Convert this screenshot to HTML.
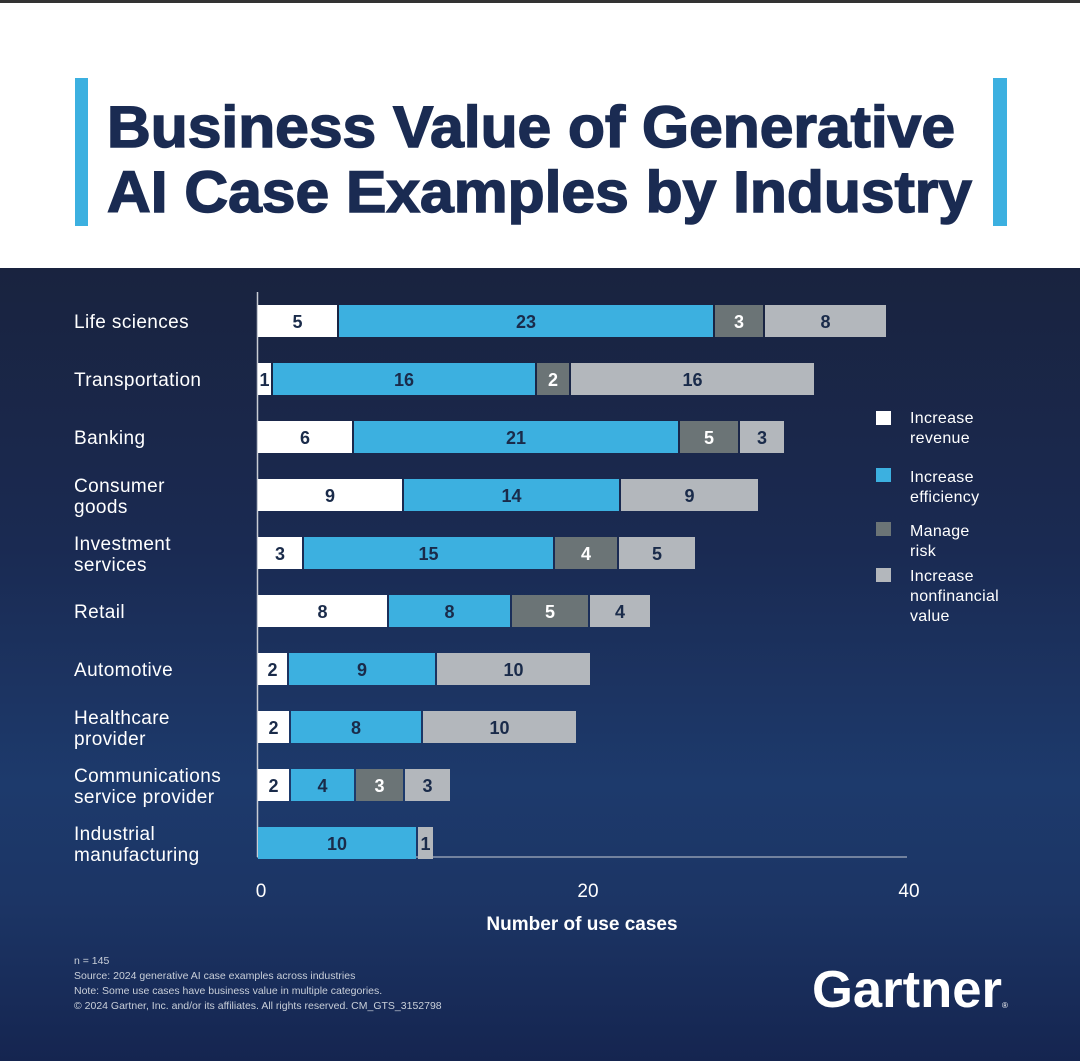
<!DOCTYPE html>
<html><head><meta charset="utf-8"><style>
html,body{margin:0;padding:0;width:1080px;height:1061px;overflow:hidden;background:#fff}
</style></head><body>
<svg width="1080" height="1061" viewBox="0 0 1080 1061" xmlns="http://www.w3.org/2000/svg" font-family="Liberation Sans, sans-serif">
<defs>
<linearGradient id="bg" x1="0" y1="0" x2="0" y2="1">
<stop offset="0" stop-color="#19233f"/>
<stop offset="0.35" stop-color="#1a2a52"/>
<stop offset="0.65" stop-color="#1d3a6c"/>
<stop offset="0.8" stop-color="#1c3565"/>
<stop offset="1" stop-color="#152550"/>
</linearGradient>
</defs>
<rect x="0" y="0" width="1080" height="3" fill="#333"/>
<rect x="0" y="3" width="1080" height="265" fill="#fff"/>
<rect x="75" y="78" width="13" height="148" fill="#3cb0e0"/>
<rect x="993" y="78" width="14" height="148" fill="#3cb0e0"/>
<g fill="#1a2b52" font-weight="bold" font-size="58" stroke="#1a2b52" stroke-width="1.5">
<text x="107" y="147" textLength="848" lengthAdjust="spacingAndGlyphs">Business Value of Generative</text>
<text x="107" y="212" textLength="865" lengthAdjust="spacingAndGlyphs">AI Case Examples by Industry</text>
</g>
<rect x="0" y="268" width="1080" height="793" fill="url(#bg)"/>
<line x1="257.5" y1="292" x2="257.5" y2="857" stroke="#c8ccd4" stroke-width="1.5"/>
<line x1="257" y1="857" x2="907" y2="857" stroke="#c8ccd4" stroke-width="1"/>
<g fill="#fff" font-size="19" letter-spacing="0.4">
<text x="74" y="328">Life sciences</text>
<text x="74" y="386">Transportation</text>
<text x="74" y="444">Banking</text>
<text x="74" y="492">Consumer</text><text x="74" y="513">goods</text>
<text x="74" y="550">Investment</text><text x="74" y="571">services</text>
<text x="74" y="618">Retail</text>
<text x="74" y="676">Automotive</text>
<text x="74" y="724">Healthcare</text><text x="74" y="745">provider</text>
<text x="74" y="782">Communications</text><text x="74" y="803">service provider</text>
<text x="74" y="840">Industrial</text><text x="74" y="861">manufacturing</text>
</g>
<g>
<rect x="258" y="305" width="79" height="32" fill="#fff"/><rect x="339" y="305" width="374" height="32" fill="#3cb0e0"/><rect x="715" y="305" width="48" height="32" fill="#6b7476"/><rect x="765" y="305" width="121" height="32" fill="#b3b7bc"/>
<rect x="258" y="363" width="13" height="32" fill="#fff"/><rect x="273" y="363" width="262" height="32" fill="#3cb0e0"/><rect x="537" y="363" width="32" height="32" fill="#6b7476"/><rect x="571" y="363" width="243" height="32" fill="#b3b7bc"/>
<rect x="258" y="421" width="94" height="32" fill="#fff"/><rect x="354" y="421" width="324" height="32" fill="#3cb0e0"/><rect x="680" y="421" width="58" height="32" fill="#6b7476"/><rect x="740" y="421" width="44" height="32" fill="#b3b7bc"/>
<rect x="258" y="479" width="144" height="32" fill="#fff"/><rect x="404" y="479" width="215" height="32" fill="#3cb0e0"/><rect x="621" y="479" width="137" height="32" fill="#b3b7bc"/>
<rect x="258" y="537" width="44" height="32" fill="#fff"/><rect x="304" y="537" width="249" height="32" fill="#3cb0e0"/><rect x="555" y="537" width="62" height="32" fill="#6b7476"/><rect x="619" y="537" width="76" height="32" fill="#b3b7bc"/>
<rect x="258" y="595" width="129" height="32" fill="#fff"/><rect x="389" y="595" width="121" height="32" fill="#3cb0e0"/><rect x="512" y="595" width="76" height="32" fill="#6b7476"/><rect x="590" y="595" width="60" height="32" fill="#b3b7bc"/>
<rect x="258" y="653" width="29" height="32" fill="#fff"/><rect x="289" y="653" width="146" height="32" fill="#3cb0e0"/><rect x="437" y="653" width="153" height="32" fill="#b3b7bc"/>
<rect x="258" y="711" width="31" height="32" fill="#fff"/><rect x="291" y="711" width="130" height="32" fill="#3cb0e0"/><rect x="423" y="711" width="153" height="32" fill="#b3b7bc"/>
<rect x="258" y="769" width="31" height="32" fill="#fff"/><rect x="291" y="769" width="63" height="32" fill="#3cb0e0"/><rect x="356" y="769" width="47" height="32" fill="#6b7476"/><rect x="405" y="769" width="45" height="32" fill="#b3b7bc"/>
<rect x="258" y="827" width="158" height="32" fill="#3cb0e0"/><rect x="418" y="827" width="15" height="32" fill="#b3b7bc"/>
</g>
<g font-size="18" font-weight="bold" fill="#1a2b4a" text-anchor="middle">
<text x="297.5" y="328">5</text><text x="526" y="328">23</text><text x="739" y="328" fill="#fff">3</text><text x="825.5" y="328">8</text>
<text x="264.5" y="386">1</text><text x="404" y="386">16</text><text x="553" y="386" fill="#fff">2</text><text x="692.5" y="386">16</text>
<text x="305" y="444">6</text><text x="516" y="444">21</text><text x="709" y="444" fill="#fff">5</text><text x="762" y="444">3</text>
<text x="330" y="502">9</text><text x="511.5" y="502">14</text><text x="689.5" y="502">9</text>
<text x="280" y="560">3</text><text x="428.5" y="560">15</text><text x="586" y="560" fill="#fff">4</text><text x="657" y="560">5</text>
<text x="322.5" y="618">8</text><text x="449.5" y="618">8</text><text x="550" y="618" fill="#fff">5</text><text x="620" y="618">4</text>
<text x="272.5" y="676">2</text><text x="362" y="676">9</text><text x="513.5" y="676">10</text>
<text x="273.5" y="734">2</text><text x="356" y="734">8</text><text x="499.5" y="734">10</text>
<text x="273.5" y="792">2</text><text x="322.5" y="792">4</text><text x="379.5" y="792" fill="#fff">3</text><text x="427.5" y="792">3</text>
<text x="337" y="850">10</text><text x="425.5" y="850">1</text>
</g>
<g font-size="19" fill="#fff" text-anchor="middle">
<text x="261" y="897">0</text><text x="588" y="897">20</text><text x="909" y="897">40</text>
</g>
<text x="582" y="930" fill="#fff" font-size="19" font-weight="bold" text-anchor="middle">Number of use cases</text>
<g fill="#fff" font-size="16" letter-spacing="0.3">
<rect x="876" y="411" width="15" height="14" fill="#fff"/>
<rect x="876" y="468" width="15" height="14" fill="#3cb0e0"/>
<rect x="876" y="522" width="15" height="14" fill="#6b7476"/>
<rect x="876" y="568" width="15" height="14" fill="#b3b7bc"/>
<text x="910" y="423">Increase</text><text x="910" y="443">revenue</text>
<text x="910" y="482">Increase</text><text x="910" y="502">efficiency</text>
<text x="910" y="536">Manage</text><text x="910" y="556">risk</text>
<text x="910" y="581">Increase</text><text x="910" y="601">nonfinancial</text><text x="910" y="621">value</text>
</g>
<g fill="#c9cfd9" font-size="10.5">
<text x="74" y="964">n = 145</text>
<text x="74" y="979">Source: 2024 generative AI case examples across industries</text>
<text x="74" y="994">Note: Some use cases have business value in multiple categories.</text>
<text x="74" y="1009">© 2024 Gartner, Inc. and/or its affiliates.  All rights reserved. CM_GTS_3152798</text>
</g>
<text x="812" y="1007" fill="#fff" font-size="52" font-weight="bold" textLength="190" lengthAdjust="spacingAndGlyphs">Gartner</text>
<text x="1002" y="1008" fill="#fff" font-size="8">®</text>
</svg>
</body></html>
